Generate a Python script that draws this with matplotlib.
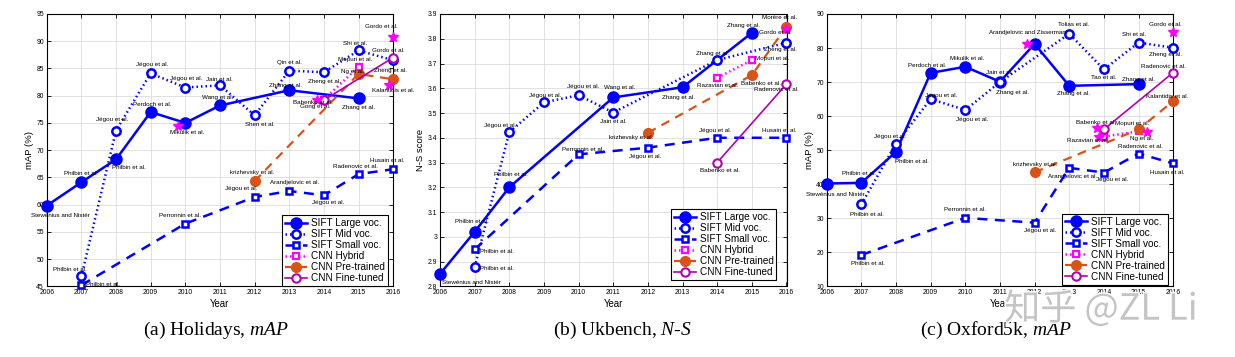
import matplotlib
matplotlib.use('Agg')
import matplotlib.pyplot as plt
import matplotlib.patheffects as pe

plt.rcParams['font.family'] = ['Liberation Sans', 'DejaVu Sans']
plt.rcParams['mathtext.fontset'] = 'custom'
plt.rcParams['mathtext.rm'] = 'Liberation Serif'
plt.rcParams['mathtext.it'] = 'Liberation Serif:italic'

# ---------------- (a) Holidays, mAP ----------------
HOL_LARGE_YEARS = [2006, 2007, 2008, 2009, 2010, 2011, 2013, 2015]
HOL_LARGE_VALUES = [59.8, 64.1, 68.3, 77.0, 75.0, 78.2, 81.0, 79.5]
HOL_LARGE_NAMES = ['Stewénius and Nistér', 'Philbin et al.', 'Philbin et al.', 'Perdoch et al.',
                   'Mikulik et al.', 'Wang et al.', 'Zhang et al.', 'Zhang et al.']
HOL_MID_YEARS = [2007, 2008, 2009, 2010, 2011, 2012, 2013, 2014, 2015, 2016]
HOL_MID_VALUES = [46.8, 73.6, 84.1, 81.5, 81.9, 76.4, 84.6, 84.3, 88.3, 86.5]
HOL_MID_NAMES = ['Philbin et al.', 'Jégou et al.', 'Jégou et al.', 'Jégou et al.', 'Jain et al.',
                 'Shen et al.', 'Qin et al.', 'Zheng et al.', 'Shi et al.', 'Zheng et al.']
HOL_SMALL_YEARS = [2007, 2010, 2012, 2013, 2014, 2015, 2016]
HOL_SMALL_VALUES = [45.2, 56.5, 61.4, 62.5, 61.7, 65.6, 66.5]
HOL_SMALL_NAMES = ['Philbin et al.', 'Perronnin et al.', 'Jégou et al.', 'Arandjelovic et al.',
                   'Jégou et al.', 'Radenovic et al.', 'Husain et al.']
HOL_HYBRID_YEARS = [2014, 2015]
HOL_HYBRID_VALUES = [79.3, 85.3]
HOL_HYBRID_NAMES = ['Gong et al.', 'Mopuri et al.']
HOL_PRE_YEARS = [2012, 2015, 2016]
HOL_PRE_VALUES = [64.3, 84.0, 83.0]
HOL_PRE_NAMES = ['krizhevsky et al.', 'Ng et al.', 'Kalantidis et al.']
HOL_FINE_YEARS = [2014, 2016]
HOL_FINE_VALUES = [79.2, 87.0]
HOL_FINE_NAMES = ['Babenko et al.', 'Gordo et al.']
HOL_STAR_YEARS = [2009.8, 2013.8, 2015.87, 2016]
HOL_STAR_VALUES = [74.5, 79.3, 82.0, 90.8]
HOL_STAR_NAMES = ['', '', '', 'Gordo et al.']

# ---------------- (b) Ukbench, N-S ----------------
UKB_LARGE_YEARS = [2006, 2007, 2008, 2011, 2013, 2015]
UKB_LARGE_VALUES = [2.85, 3.02, 3.20, 3.563, 3.604, 3.824]
UKB_LARGE_NAMES = ['Stewénius and Nistér', 'Philbin et al.', 'Philbin et al.', 'Wang et al.',
                   'Zhang et al.', 'Zhang et al.']
UKB_MID_YEARS = [2007, 2008, 2009, 2010, 2011, 2014, 2016]
UKB_MID_VALUES = [2.878, 3.423, 3.543, 3.572, 3.502, 3.714, 3.784]
UKB_MID_NAMES = ['Philbin et al.', 'Jégou et al.', 'Jégou et al.', 'Jégou et al.', 'Jain et al.',
                 'Zhang et al.', 'Zheng et al.']
UKB_SMALL_YEARS = [2007, 2010, 2012, 2014, 2016]
UKB_SMALL_VALUES = [2.949, 3.333, 3.36, 3.40, 3.40]
UKB_SMALL_NAMES = ['Philbin et al.', 'Perronnin et al.', 'Jégou et al.', 'Jégou et al.', 'Husain et al.']
UKB_HYBRID_YEARS = [2014, 2015]
UKB_HYBRID_VALUES = [3.642, 3.714]
UKB_HYBRID_NAMES = ['Razavian et al.', 'Mopuri et al.']
UKB_PRE_YEARS = [2012, 2015, 2016]
UKB_PRE_VALUES = [3.42, 3.653, 3.849]
UKB_PRE_NAMES = ['krizhevsky et al.', 'Babenko et al.', 'Morère et al.']
UKB_FINE_YEARS = [2014, 2016]
UKB_FINE_VALUES = [3.30, 3.617]
UKB_FINE_NAMES = ['Babenko et al.', 'Radenovic et al.']
UKB_STAR_YEARS = [2016]
UKB_STAR_VALUES = [3.84]
UKB_STAR_NAMES = ['Gordo et al.']

# ---------------- (c) Oxford5k, mAP ----------------
OXF_LARGE_YEARS = [2006, 2007, 2008, 2009, 2010, 2011, 2012, 2013, 2015]
OXF_LARGE_VALUES = [40.2, 40.4, 49.5, 72.7, 74.5, 70.1, 81.2, 68.9, 69.4]
OXF_LARGE_NAMES = ['Stewénius and Nistér', 'Philbin et al.', 'Philbin et al.', 'Perdoch et al.',
                   'Mikulik et al.', 'Zhang et al.', 'Arandjelovic and Zisserman', 'Zhang et al.',
                   'Zhang et al.']
OXF_MID_YEARS = [2007, 2008, 2009, 2010, 2011, 2013, 2014, 2015, 2016]
OXF_MID_VALUES = [34.1, 51.9, 65.0, 61.8, 70.0, 84.2, 73.7, 81.6, 80.1]
OXF_MID_NAMES = ['Philbin et al.', 'Jégou et al.', 'Jégou et al.', 'Jégou et al.', 'Jain et al.',
                 'Tolias et al.', 'Tao et al.', 'Shi et al.', 'Zheng et al.']
OXF_SMALL_YEARS = [2007, 2010, 2012, 2013, 2014, 2015, 2016]
OXF_SMALL_VALUES = [19.2, 30.1, 28.7, 44.8, 43.4, 49.0, 46.1]
OXF_SMALL_NAMES = ['Philbin et al.', 'Perronnin et al.', 'Jégou et al.', 'Arandjelovic et al.',
                   'Jégou et al.', 'Radenovic et al.', 'Husain et al.']
OXF_HYBRID_YEARS = [2014, 2015]
OXF_HYBRID_VALUES = [54.0, 55.5]
OXF_HYBRID_NAMES = ['Razavian et al.', 'Mopuri et al.']
OXF_PRE_YEARS = [2012, 2015, 2016]
OXF_PRE_VALUES = [43.5, 56.1, 64.4]
OXF_PRE_NAMES = ['krizhevsky et al.', 'Ng et al.', 'Kalantidis et al.']
OXF_FINE_YEARS = [2014, 2016]
OXF_FINE_VALUES = [56.1, 72.8]
OXF_FINE_NAMES = ['Babenko et al.', 'Radenovic et al.']
OXF_STAR_YEARS = [2011.77, 2013.8, 2013.85, 2015.23, 2016]
OXF_STAR_VALUES = [81.3, 56.6, 54.0, 55.2, 84.6]
OXF_STAR_NAMES = ['', '', '', '', 'Gordo et al.']

SERIES_LABELS = ['SIFT Large voc.', 'SIFT Mid voc.', 'SIFT Small voc.',
                 'CNN Hybrid', 'CNN Pre-trained', 'CNN Fine-tuned']

# ---------------- label offsets (pixels) ----------------
OFF = {
    'hol': {
        'large': [(14, -10), (0, 9), (13, -8), (2, 8), (2, -10), (-2, 8), (-4, 5), (0, -9)],
        'mid': [(-11, 7), (-4, 11), (2, 9), (1, 9), (-1, 6), (5, -9), (0, 8), (1, -9), (-3, 7), (-3, -10)],
        'small': [(22, 1), (-5, 8), (-13, 8), (5, 8), (4, -7), (-3, 8), (-6, 9)],
        'hybrid': [(-9, -7), (-3, 7)],
        'pre': [(-2, 9), (-6, 2), (0, -11)],
        'fine': [(-11, -2), (-5, 7)],
        'star': [(0, 0), (0, 0), (0, 0), (-12, 10)],
    },
    'ukb': {
        'large': [(31, -9), (-3, 10), (2, 13), (6, 10), (-4, -10), (-8, 7)],
        'mid': [(22, -2), (-9, 7), (1, 7), (5, 9), (0, -9), (-5, 7), (-6, -7)],
        'small': [(22, -2), (4, 5), (-3, -9), (-2, 7), (-7, 7)],
        'hybrid': [(0, -8), (20, 2)],
        'pre': [(-17, -5), (9, -8), (-7, 9)],
        'fine': [(3, -8), (-10, -5)],
        'star': [(-11, -4)],
    },
    'oxf': {
        'large': [(9, -11), (-2, 9), (16, -10), (-3, 7), (2, 8), (13, -11), (-7, 11), (4, -8), (0, 5)],
        'mid': [(6, -10), (-6, 7), (11, 4), (7, -10), (-1, 10), (4, 9), (0, -8), (-4, 8), (-8, -7)],
        'small': [(7, -9), (0, 8), (6, -8), (3, -9), (8, -7), (2, 7), (-6, -9)],
        'hybrid': [(-16, -4), (-6, 8)],
        'pre': [(1, 8), (3, -9), (-6, 5)],
        'fine': [(-8, 7), (-10, 6)],
        'star': [(0, 0), (0, 0), (0, 0), (0, 0), (-8, 8)],
    },
}

BLUE = '#0000ff'
MAG = '#ff00ff'
ORANGE = '#d95319'
PURPLE = '#b200b2'
STYLES = {
    'large': dict(color=BLUE, ls='-', lw=1.8, marker='o', ms=8, mfc=BLUE, mec=BLUE),
    'mid': dict(color=BLUE, ls=(0, (0.6, 1.2)), lw=1.8, marker='o', ms=6, mfc='white', mec=BLUE, mew=1.8),
    'small': dict(color=BLUE, ls=(0, (4, 3)), lw=1.8, marker='s', ms=5, mfc='white', mec=BLUE, mew=1.8),
    'hybrid': dict(color=MAG, ls=(0, (0.6, 1.2)), lw=1.8, marker='s', ms=5, mfc='white', mec=MAG, mew=1.6),
    'pre': dict(color=ORANGE, ls=(0, (4, 3)), lw=1.6, marker='o', ms=7, mfc=ORANGE, mec=ORANGE),
    'fine': dict(color=PURPLE, ls='-', lw=1.2, marker='o', ms=6, mfc='white', mec=PURPLE, mew=1.5),
}

PANELS = [
    dict(key='hol', left=46.7, ylim=(45, 95), yticks=[45, 50, 55, 60, 65, 70, 75, 80, 85, 90, 95],
         ytl=None, ylabel='mAP (%)', ylabx=30, caption='(a) Holidays, $mAP$', capx=216,
         legx=0.986, legy=0.0,
         data=[('large', HOL_LARGE_YEARS, HOL_LARGE_VALUES, HOL_LARGE_NAMES),
               ('mid', HOL_MID_YEARS, HOL_MID_VALUES, HOL_MID_NAMES),
               ('small', HOL_SMALL_YEARS, HOL_SMALL_VALUES, HOL_SMALL_NAMES),
               ('hybrid', HOL_HYBRID_YEARS, HOL_HYBRID_VALUES, HOL_HYBRID_NAMES),
               ('pre', HOL_PRE_YEARS, HOL_PRE_VALUES, HOL_PRE_NAMES),
               ('fine', HOL_FINE_YEARS, HOL_FINE_VALUES, HOL_FINE_NAMES)],
         stars=(HOL_STAR_YEARS, HOL_STAR_VALUES, HOL_STAR_NAMES)),
    dict(key='ukb', left=440.0, ylim=(2.8, 3.9),
         yticks=[2.8, 2.9, 3.0, 3.1, 3.2, 3.3, 3.4, 3.5, 3.6, 3.7, 3.8, 3.9],
         ytl=['2.8', '2.9', '3', '3.1', '3.2', '3.3', '3.4', '3.5', '3.6', '3.7', '3.8', '3.9'],
         ylabel='N-S score', ylabx=420.7, caption='(b) Ukbench, $N$-$S$', capx=622,
         legx=0.971, legy=0.022,
         data=[('large', UKB_LARGE_YEARS, UKB_LARGE_VALUES, UKB_LARGE_NAMES),
               ('mid', UKB_MID_YEARS, UKB_MID_VALUES, UKB_MID_NAMES),
               ('small', UKB_SMALL_YEARS, UKB_SMALL_VALUES, UKB_SMALL_NAMES),
               ('hybrid', UKB_HYBRID_YEARS, UKB_HYBRID_VALUES, UKB_HYBRID_NAMES),
               ('pre', UKB_PRE_YEARS, UKB_PRE_VALUES, UKB_PRE_NAMES),
               ('fine', UKB_FINE_YEARS, UKB_FINE_VALUES, UKB_FINE_NAMES)],
         stars=(UKB_STAR_YEARS, UKB_STAR_VALUES, UKB_STAR_NAMES)),
    dict(key='oxf', left=826.7, ylim=(10, 90), yticks=[10, 20, 30, 40, 50, 60, 70, 80, 90],
         ytl=None, ylabel='mAP (%)', ylabx=810, caption='(c) Oxford5k, $mAP$', capx=996,
         legx=0.984, legy=0.006,
         data=[('large', OXF_LARGE_YEARS, OXF_LARGE_VALUES, OXF_LARGE_NAMES),
               ('mid', OXF_MID_YEARS, OXF_MID_VALUES, OXF_MID_NAMES),
               ('small', OXF_SMALL_YEARS, OXF_SMALL_VALUES, OXF_SMALL_NAMES),
               ('hybrid', OXF_HYBRID_YEARS, OXF_HYBRID_VALUES, OXF_HYBRID_NAMES),
               ('pre', OXF_PRE_YEARS, OXF_PRE_VALUES, OXF_PRE_NAMES),
               ('fine', OXF_FINE_YEARS, OXF_FINE_VALUES, OXF_FINE_NAMES)],
         stars=(OXF_STAR_YEARS, OXF_STAR_VALUES, OXF_STAR_NAMES)),
]

W, H = 1235, 357
fig = plt.figure(figsize=(W / 100, H / 100), dpi=100)
AX_W, AX_TOP, AX_BOT = 346.5, 14.0, 286.3

for p in PANELS:
    ax = fig.add_axes([p['left'] / W, 1 - AX_BOT / H, AX_W / W, (AX_BOT - AX_TOP) / H])
    ax.set_xlim(2006, 2016)
    ax.set_ylim(*p['ylim'])
    ax.set_xticks(range(2006, 2017))
    ax.set_yticks(p['yticks'])
    if p['ytl'] is not None:
        ax.set_yticklabels(p['ytl'])
    ax.grid(True, color='#dcdcdc', lw=0.6)
    ax.set_axisbelow(True)
    ax.tick_params(direction='in', top=True, right=True, length=3, width=0.6,
                   labelsize=4.9, pad=2)
    for s in ax.spines.values():
        s.set_linewidth(0.8)
    handles = []
    offs = OFF[p['key']]
    for (kind, xs, ys, names), lab in zip(p['data'], SERIES_LABELS):
        st = STYLES[kind]
        h, = ax.plot(xs, ys, clip_on=False, zorder=3, label=lab, **st)
        handles.append(h)
        for x, y, n, (dx, dy) in zip(xs, ys, names, offs[kind]):
            ax.annotate(n, (x, y), xytext=(dx, dy), textcoords='offset pixels',
                        ha='center', va='center', fontsize=4.5, zorder=5,
                        annotation_clip=False)
    sx, sy, sn = p['stars']
    ax.plot(sx, sy, ls='none', marker='*', ms=7, color=MAG, mec=MAG, clip_on=False, zorder=4)
    for x, y, n, (dx, dy) in zip(sx, sy, sn, offs['star']):
        if n:
            ax.annotate(n, (x, y), xytext=(dx, dy), textcoords='offset pixels',
                        ha='center', va='center', fontsize=4.5, zorder=5,
                        annotation_clip=False)
    leg = ax.legend(handles=handles, loc='lower right', bbox_to_anchor=(p['legx'], p['legy']),
                    borderaxespad=0, fontsize=7.2, handlelength=2.2, handletextpad=0.4,
                    labelspacing=0.1, borderpad=0.3, fancybox=False, framealpha=1,
                    edgecolor='black')
    leg.get_frame().set_linewidth(0.8)
    leg.set_zorder(6)
    fig.text((p['left'] + AX_W / 2) / W, 1 - 304 / H, 'Year', ha='center', va='center', fontsize=6.9)
    fig.text(p['ylabx'] / W, 1 - 150 / H, p['ylabel'], rotation=90, ha='center', va='center',
             fontsize=6.8)
    fig.text(p['capx'] / W, 1 - 330 / H, p['caption'], ha='center', va='center', fontsize=14,
             family='Liberation Serif')

fig.text(1101 / W, 1 - 309 / H, '知乎 @ZL Li', ha='center', va='center', fontsize=26,
         family=['Noto Sans CJK SC', 'DejaVu Sans'], color='#c4c4c4', zorder=10,
         path_effects=[pe.withStroke(linewidth=2, foreground='white')])

fig.savefig('out.png', dpi=100)
